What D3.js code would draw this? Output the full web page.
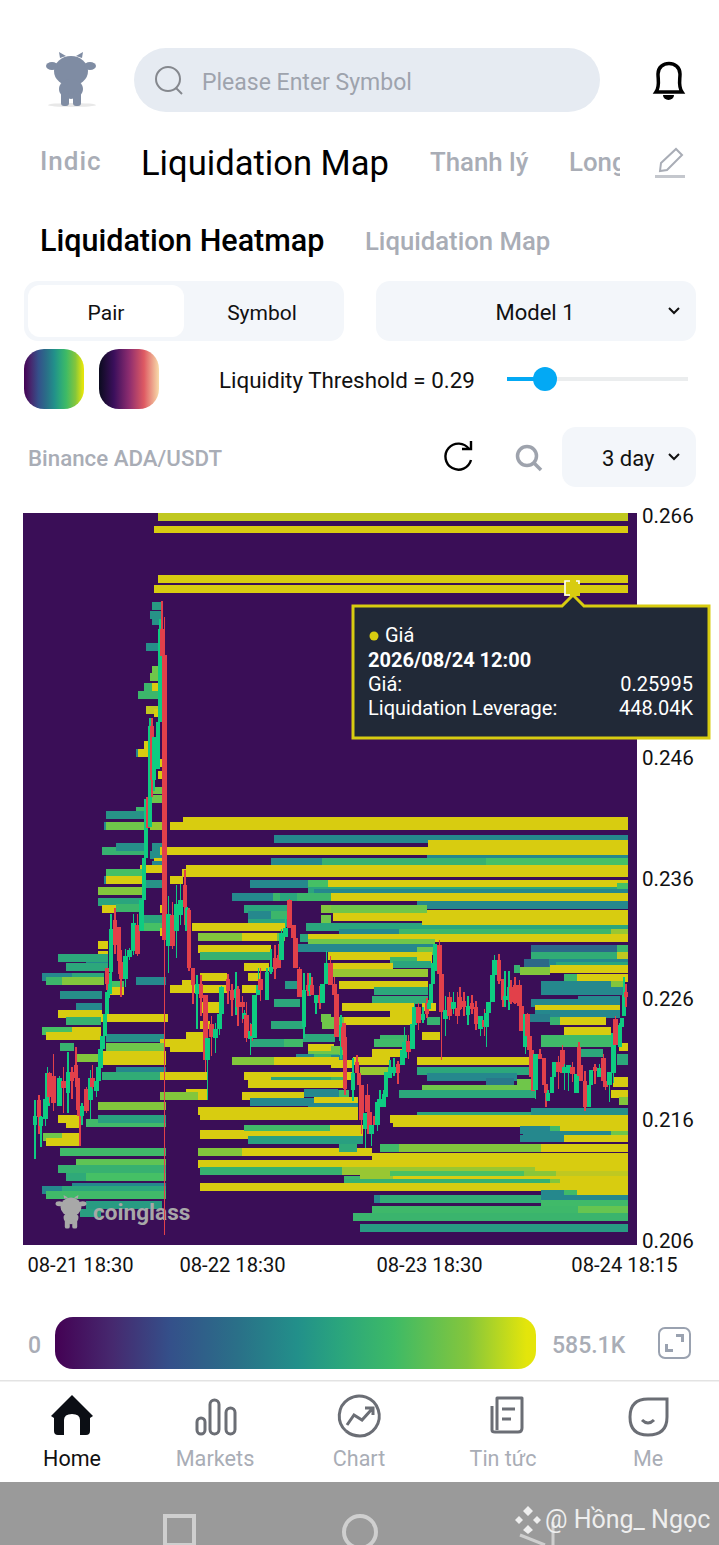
<!DOCTYPE html>
<html>
<head>
<meta charset="utf-8">
<script src="https://d3js.org/d3.v7.min.js"></script>
<style>
	body, html { margin: 0; padding: 0; background: #fff; }
	svg { display: block; }
	text { font-family: Roboto, "Noto Sans", sans-serif; }
</style>
</head>
<body>
<script>

var priceTicks = [0.266, 0.256, 0.246, 0.236, 0.226, 0.216, 0.206];
var timeTicks = [0, 24, 48, 71.75];
var timeLabels = ["08-21 18:30", "08-22 18:30", "08-23 18:30", "08-24 18:15"];
var legendMin = "0";
var legendMax = "585.1K";

// liquidation value (K) -> colour for the heat rows
var colorValues = [0, 68, 133, 201, 241, 277, 309, 337, 366, 386, 426, 448, 470];
var colorRange = ["#440154", "#46296f", "#32508a", "#2a7088", "#25888d", "#2aa57d", "#3cb66b", "#45c065", "#6fc64a", "#82c63c", "#c0c820", "#d8cc10", "#e5e50a"];

// legend bar stops
var legendOffsets = [0, 0.12, 0.24, 0.38, 0.505, 0.59, 0.705, 0.857, 0.98, 1];
var legendColors = ["#440154", "#46296f", "#34508a", "#2a7088", "#22908a", "#2aa57d", "#3eba66", "#84c63c", "#e3e50b", "#e5e50a"];

// [price, from hour, to hour, value K]
var heatTop = [
	[.2658, 15, 72.3, 426], [.2648, 14.5, 72.3, 448], [.2607, 15, 72.3, 448], [.2599, 14.5, 72.3, 448],
	[.2585, 14.3, 15.5, 265], [.2577, 14, 15.5, 255], [.2572, 14.3, 15.5, 255], [.2551, 13.5, 15, 250],
	[.2532, 14.3, 15, 366], [.2526, 14, 15, 366], [.2518, 13.3, 14.3, 309], [.2518, 14.3, 15, 448],
	[.2511, 12.6, 15, 309], [.2499, 13.5, 15, 426], [.2496, 14.5, 15, 448], [.2470, 13.3, 13.8, 448],
	[.2463, 12.3, 13.8, 241], [.2463, 12.6, 13.8, 448], [.2455, 15, 15.5, 448], [.2445, 15, 15.5, 448],
	[.2432, 14.3, 15.5, 366], [.2425, 14.3, 15.5, 366], [.2415, 12.3, 13.3, 309], [.2412, 8.7, 13.3, 255],
	[.2403, 8.4, 13.3, 241], [.2403, 8.7, 13.3, 366], [.2403, 14, 15.5, 400], [.2407, 18, 72.3, 448], [.2403, 16.5, 72.3, 448],
	[.2392, 29.1, 72.3, 241]
];

var heatUpper = [
	[.2382, 8.2, 13.3, 300], [.2385, 9.9, 13.3, 250], [.2385, 14.3, 15.5, 250], [.2379, 14, 15.5, 250],
	[.2388, 47.9, 72.3, 448], [.2382, 15.2, 72.3, 448],
	[.2375, 47.7, 72.3, 241], [.2373, 28.7, 35, 241], [.2373, 35, 55, 300], [.2373, 55, 72.3, 337],
	[.2373, 14.5, 15.5, 448], [.2370, 14.3, 15.5, 241],
	[.2367, 18.4, 72.3, 448], [.2364, 17.9, 72.3, 448], [.2367, 12.8, 15.5, 448],
	[.2364, 8.7, 13, 337], [.2358, 8.4, 13, 241], [.2358, 8.7, 13, 448], [.2358, 16.5, 18, 448], [.2355, 13.5, 15.5, 255],
	[.2355, 26.2, 33.3, 241], [.2355, 33.3, 35.7, 337], [.2355, 35.7, 72.3, 448],
	[.2349, 7.7, 13, 386], [.2349, 33.3, 72.3, 277], [.2352, 70.9, 72.3, 337], [.2347, 34, 72.3, 241],
	[.2344, 24, 29, 241], [.2344, 29, 29.9, 309], [.2344, 29.9, 31.9, 277], [.2344, 31.9, 36, 309], [.2344, 36, 72.3, 448],
	[.2340, 7.7, 13, 277], [.2337, 46.5, 72.3, 241],
	[.2334, 8.2, 9.9, 448], [.2335, 9.9, 12.8, 309], [.2334, 15.2, 16, 448], [.2334, 25.5, 30.7, 277], [.2334, 34.8, 36, 386], [.2334, 36, 47.7, 366],
	[.2330, 47.7, 72.3, 448], [.2329, 26, 28.7, 241], [.2329, 28.7, 30.7, 309],
	[.2327, 36.3, 47.7, 448], [.2326, 47.7, 72.3, 448], [.2326, 13.2, 15.5, 277], [.2326, 34.8, 36, 366],
	[.2322, 26, 30.7, 277], [.2322, 47.2, 72.3, 448], [.2319, 13, 15.5, 337], [.2319, 19.1, 30.4, 448],
	[.2319, 33, 47.2, 277], [.2317, 47.2, 72.3, 277], [.2315, 15.2, 15.8, 448],
	[.2314, 37, 44.3, 241], [.2314, 44.3, 70.2, 309], [.2314, 70.2, 72.3, 400],
	[.2311, 19.9, 25.2, 386], [.2311, 25.2, 29.5, 448], [.2311, 29.5, 30.4, 366],
	[.2310, 32.3, 33.3, 277], [.2310, 33.3, 72.3, 448],
	[.2306, 33.3, 48.7, 366], [.2304, 7.7, 8.9, 448], [.2302, 32, 48.7, 241], [.2301, 19.9, 28.7, 448],
	[.2301, 60.4, 70.9, 185], [.2301, 70.9, 72.3, 309], [.2299, 36.2, 46.5, 241], [.2299, 46.5, 48.7, 366],
	[.2296, 7.7, 8.9, 448], [.2295, 20.1, 28.7, 300], [.2295, 35.7, 48.4, 448], [.2295, 60.4, 70.9, 290], [.2295, 70.9, 72.3, 426],
	[.2293, 2.8, 8.9, 280], [.2291, 43.3, 46.5, 309], [.2291, 46.5, 48.4, 448],
	[.2289, 59.6, 62.6, 185], [.2289, 62.6, 72.3, 241], [.2288, 43.6, 48.2, 277], [.2287, 6.2, 8.9, 241], [.2287, 63.5, 72.3, 277],
	[.2286, 3.8, 8.9, 280], [.2286, 25.5, 28.5, 448], [.2286, 36, 43.6, 448],
	[.2284, 58.4, 59.1, 300], [.2284, 62.7, 72.3, 448], [.2283, 59.1, 62.7, 386], [.2281, 36.2, 47.9, 400],
	[.2278, .9, 4.5, 241], [.2278, 4.5, 8.4, 280], [.2278, 20.1, 23.4, 448], [.2278, 26, 27.4, 448],
	[.2277, 64.5, 66, 309], [.2277, 66, 72.3, 448],
	[.2274, 1.3, 3.3, 309], [.2274, 3.3, 8.4, 386], [.2274, 12.3, 16, 241],
	[.2272, 17.9, 19, 448], [.2271, 8.9, 10.9, 337], [.2271, 30.4, 31.9, 260], [.2271, 37, 47.9, 448], [.2271, 61.6, 70.2, 241], [.2271, 70.2, 71.8, 386],
	[.2268, 16.5, 23.4, 448], [.2268, 25.2, 27.4, 448], [.2266, 8.9, 10.9, 448], [.2266, 41.3, 47.9, 280], [.2266, 61.6, 71.8, 241],
	[.2263, 3, 8.2, 250], [.2259, 41.1, 47.9, 290], [.2259, 66.2, 71.3, 241], [.2256, 29.1, 32.3, 280], [.2256, 60.4, 71.3, 241],
	[.2254, 20.1, 22.6, 448], [.2253, 5, 8.2, 241], [.2251, 20.1, 22.6, 448], [.2253, 37.4, 46.2, 448], [.2253, 47.1, 48.9, 448], [.2251, 60.9, 71.3, 448]
];

var heatMiddle = [
	[.2247, 2.8, 8.2, 448], [.2247, 43.3, 46.2, 448], [.2247, 60.9, 71.3, 241], [.2244, 6.2, 8.4, 448], [.2244, 8.4, 16.2, 448], [.2244, 34.8, 36, 366], [.2244, 59.6, 62.7, 225],
	[.2241, 3.8, 8, 300], [.2241, 36, 37.7, 366], [.2241, 37.7, 46, 448], [.2241, 47.7, 49.4, 300], [.2241, 62.8, 64, 300], [.2241, 64, 69.6, 448],
	[.2238, 20.1, 21.3, 448], [.2238, 28.7, 32.7, 280], [.2238, 35, 37, 366], [.2233, .9, 4.5, 337], [.2233, 4.5, 8, 448], [.2233, 64.5, 70.2, 448],
	[.2229, 1.3, 8, 448], [.2229, 18.4, 20.6, 448], [.2229, 47.2, 49.4, 448],
	[.2227, 8.7, 15.7, 250], [.2227, 32.7, 36.5, 280], [.2226, 42, 45.3, 309], [.2226, 61.6, 70.4, 320], [.2223, 15.2, 20.6, 448], [.2223, 26.2, 30.3, 280], [.2223, 30.3, 32.7, 320],
	[.2223, 41.3, 45.3, 320], [.2223, 61.6, 70.4, 320], [.2220, 3, 4.8, 300], [.2220, 8.7, 15.7, 366], [.2220, 71.1, 72.3, 448],
	[.2219, 16.5, 20.6, 448], [.2219, 33.3, 36.4, 448], [.2217, 36, 38, 366], [.2215, 41.1, 44.8, 448], [.2215, 66.5, 69.2, 280],
	[.2213, 8.2, 16, 448], [.2213, 33.3, 37.5, 366], [.2211, 5.1, 7.7, 386], [.2211, 31.8, 34, 241], [.2211, 34, 37, 309], [.2211, 70.9, 72.3, 280], [.2210, 36, 38, 241],
	[.2208, 8.2, 16, 448], [.2208, 24, 29.1, 386], [.2208, 29.1, 37, 448], [.2208, 38.7, 43.3, 448], [.2208, 46.5, 60.4, 448], [.2208, 70.9, 72.3, 280], [.2206, 36, 38.7, 448],
	[.2200, 9.9, 16, 241], [.2200, 39.6, 43.3, 400], [.2200, 46.5, 60.4, 280],
	[.2196, 8.2, 15.2, 290], [.2196, 15.2, 21.1, 448], [.2196, 25.5, 38.7, 448], [.2195, 47.7, 58.7, 241],
	[.2192, 28.7, 36, 280], [.2192, 36, 37.5, 309], [.2192, 70.4, 72.3, 448], [.2191, 55, 58.4, 215], [.2190, 58.7, 60.4, 366], [.2190, 70.4, 72.3, 448], [.2189, 26, 37.5, 448],
	[.2185, 47.2, 60.9, 366], [.2182, 18.4, 21, 448], [.2182, 32.8, 36.9, 241], [.2181, 36, 37, 241], [.2181, 37, 38.2, 320], [.2181, 44.3, 60.9, 280], [.2181, 70.2, 72.3, 448],
	[.2179, 15.2, 19.9, 386], [.2179, 19.9, 21, 448], [.2179, 25.2, 32.8, 448], [.2175, 34, 39.4, 448], [.2175, 71.1, 72.3, 386], [.2174, 26.2, 34, 241],
	[.2171, 7.7, 16, 386], [.2170, 33.3, 39.4, 241], [.2167, 19.9, 39.4, 448], [.2166, 60.4, 72.3, 250], [.2163, 20.1, 39.4, 448], [.2163, 46.5, 60.4, 280],
	[.2157, 6.2, 16, 320], [.2160, 2.8, 5.5, 448], [.2160, 7.7, 16, 270], [.2160, 43.3, 72.3, 448], [.2156, 3.8, 5.5, 448], [.2157, 43.6, 72.3, 448],
	[.2152, 25.5, 35.9, 320], [.2152, 35.9, 39.9, 448], [.2151, 59.1, 62.8, 241], [.2151, 62.8, 64, 320], [.2151, 64, 72.3, 448],
	[.2148, 20.1, 25.5, 448], [.2147, 20.1, 39.9, 448], [.2147, 59.4, 70.2, 241], [.2147, 70.2, 72.3, 366],
	[.2145, 1, 3.3, 366], [.2145, 3.3, 5.5, 448], [.2143, 26, 39.9, 270], [.2144, 59.1, 64.5, 241], [.2144, 64.5, 72.3, 448], [.2141, 1.3, 5.5, 448]
];

var heatLower = [
	[.2133, 3, 16, 320], [.2133, 19.9, 25.2, 386], [.2133, 25.2, 41.1, 448],
	[.2136, 37, 39.2, 285], [.2136, 42, 44.3, 320], [.2136, 44.3, 61.6, 386], [.2136, 61.6, 72.3, 448],
	[.2129, 41.1, 72.3, 448], [.2124, 5, 16, 355], [.2123, 19.9, 72.3, 448],
	[.2119, 2.8, 16, 300], [.2117, 20.1, 37.4, 300], [.2117, 37.4, 60.9, 400], [.2117, 60.9, 72.3, 448],
	[.2114, 39.6, 43.3, 400], [.2114, 43.3, 59.6, 340], [.2114, 59.6, 63.5, 390], [.2114, 63.5, 72.3, 426],
	[.2112, 3.8, 6.2, 285], [.2112, 6.2, 16, 337],
	[.2110, 37.7, 39.6, 309], [.2110, 39.6, 43.6, 400], [.2110, 43.6, 72.3, 448],
	[.2107, 37.7, 62.7, 300], [.2107, 62.7, 64, 386], [.2107, 64, 72.3, 448],
	[.2104, 4.5, 16, 241], [.2104, 20.1, 72.3, 448], [.2101, .9, 3.3, 241], [.2101, 3.3, 16, 280],
	[.2098, 61.6, 64.5, 241], [.2098, 64.5, 66, 320], [.2098, 66, 72.3, 448],
	[.2097, 1.3, 16, 320], [.2094, 41.3, 42, 241], [.2094, 42, 61.6, 290], [.2094, 61.6, 72.3, 241], [.2090, 61.6, 72.3, 320],
	[.2089, 6.2, 15.5, 265], [.2085, 41.1, 66.2, 315], [.2085, 66.2, 72.3, 360], [.2082, 5.5, 8, 270],
	[.2079, 38.7, 72.3, 305], [.2070, 39.6, 72.3, 265]
];

// [quarter-hour slot, open, high, low, close]
var candlesLeft = [
	[0,.2155,.2176,.2127,.2163], [2,.2176,.2180,.2148,.2162], [3,.2154,.2163,.2137,.2162], [5,.2160,.2183,.2154,.2177],
	[6,.2171,.2203,.2162,.2198], [7,.2198,.2199,.2173,.2178], [9,.2196,.2214,.2167,.2173], [12,.2171,.2196,.2171,.2194],
	[14,.2192,.2203,.2165,.2186], [16,.2182,.2216,.2165,.2199], [18,.2199,.2203,.2177,.2192], [20,.2205,.2220,.2187,.2194],
	[21,.2194,.2194,.2163,.2168], [22,.2168,.2168,.2138,.2163], [23,.2163,.2173,.2155,.2171], [25,.2185,.2187,.2165,.2167],
	[27,.2176,.2201,.2160,.2194], [28,.2194,.2205,.2185,.2187], [30,.2183,.2194,.2178,.2192], [31,.2192,.2203,.2188,.2203],
	[32,.2202,.2218,.2200,.2218], [33,.2218,.2229,.2216,.2229], [34,.2229,.2247,.2229,.2247], [35,.2247,.2265,.2247,.2265],
	[36,.2265,.2281,.2260,.2281], [35,.2285,.2285,.2267,.2272], [37,.2282,.2330,.2264,.2317], [39,.2325,.2335,.2297,.2304],
	[41,.2319,.2319,.2280,.2291], [42,.2290,.2300,.2261,.2276], [44,.2276,.2301,.2269,.2295], [46,.2294,.2302,.2292,.2300],
	[48,.2299,.2330,.2296,.2322], [50,.2321,.2330,.2295,.2297], [52,.2316,.2341,.2316,.2341], [53,.2341,.2376,.2341,.2376],
	[54,.2376,.2425,.2376,.2425], [55,.2427,.2427,.2401,.2401], [56,.2402,.2492,.2402,.2485], [57,.2485,.2492,.2427,.2441],
	[58,.2441,.2476,.2432,.2476], [60,.2450,.2489,.2450,.2489], [61,.2489,.2574,.2489,.2566], [62,.2566,.2589,.2543,.2543],
	[63,.2544,.2576,.2064,.2308]
];

var candlesMiddle = [
	[65,.2303,.2345,.2281,.2330], [67,.2329,.2340,.2301,.2303], [69,.2316,.2354,.2293,.2338], [71,.2329,.2355,.2321,.2341],
	[73,.2354,.2366,.2321,.2336], [74,.2316,.2336,.2316,.2335], [75,.2333,.2335,.2283,.2285], [77,.2285,.2285,.2255,.2271],
	[79,.2264,.2279,.2235,.2272], [81,.2272,.2279,.2245,.2260], [83,.2263,.2263,.2199,.2209], [84,.2209,.2227,.2176,.2227],
	[86,.2239,.2245,.2212,.2228], [88,.2227,.2240,.2215,.2235], [90,.2235,.2247,.2230,.2247], [91,.2247,.2270,.2242,.2269],
	[94,.2276,.2280,.2255,.2266], [96,.2267,.2272,.2245,.2259], [98,.2260,.2282,.2246,.2268], [99,.2268,.2270,.2237,.2253],
	[101,.2257,.2262,.2240,.2253], [102,.2243,.2250,.2235,.2248], [103,.2246,.2257,.2224,.2227], [105,.2226,.2240,.2213,.2233],
	[106,.2239,.2252,.2225,.2229], [107,.2227,.2263,.2227,.2263], [109,.2263,.2285,.2263,.2271], [110,.2276,.2285,.2258,.2267],
	[113,.2259,.2285,.2259,.2282], [115,.2282,.2301,.2280,.2286], [117,.2293,.2304,.2276,.2284], [119,.2296,.2305,.2285,.2285],
	[120,.2292,.2317,.2292,.2314], [122,.2311,.2328,.2311,.2318], [124,.2341,.2342,.2318,.2318], [126,.2321,.2321,.2310,.2310],
	[127,.2310,.2311,.2285,.2285], [129,.2284,.2286,.2261,.2261], [131,.2236,.2281,.2227,.2267], [133,.2271,.2281,.2262,.2266],
	[134,.2266,.2281,.2262,.2271], [135,.2271,.2278,.2263,.2263], [137,.2256,.2263,.2247,.2263], [139,.2263,.2270,.2251,.2256],
	[140,.2256,.2272,.2256,.2272], [142,.2272,.2299,.2272,.2289], [144,.2289,.2295,.2271,.2271], [146,.2272,.2278,.2263,.2263],
	[147,.2264,.2264,.2228,.2228], [149,.2225,.2246,.2210,.2238], [150,.2236,.2240,.2217,.2220], [151,.2228,.2240,.2180,.2185],
	[155,.2184,.2211,.2175,.2198], [157,.2207,.2213,.2198,.2198], [158,.2198,.2198,.2188,.2188], [159,.2188,.2188,.2148,.2159],
	[161,.2152,.2165,.2136,.2165], [162,.2180,.2189,.2166,.2166], [163,.2166,.2166,.2148,.2148], [164,.2148,.2155,.2138,.2155],
	[166,.2163,.2170,.2155,.2155], [167,.2155,.2174,.2150,.2174], [168,.2170,.2184,.2170,.2177], [170,.2170,.2184,.2170,.2181],
	[171,.2178,.2199,.2178,.2199], [173,.2194,.2209,.2194,.2203], [175,.2198,.2211,.2196,.2203], [177,.2206,.2208,.2189,.2198],
	[179,.2205,.2219,.2205,.2217], [180,.2211,.2236,.2211,.2224], [182,.2225,.2230,.2210,.2216], [184,.2218,.2239,.2218,.2239],
	[185,.2238,.2255,.2238,.2253], [187,.2253,.2256,.2234,.2240], [189,.2242,.2253,.2240,.2247], [191,.2256,.2260,.2244,.2247]
];

var candlesRight = [
	[192,.2251,.2259,.2251,.2256], [193,.2256,.2272,.2256,.2272], [194,.2272,.2289,.2272,.2289], [195,.2283,.2305,.2283,.2305],
	[197,.2304,.2308,.2280,.2280], [198,.2280,.2282,.2209,.2249], [200,.2243,.2262,.2229,.2250], [202,.2261,.2265,.2242,.2245],
	[204,.2251,.2265,.2247,.2257], [206,.2252,.2265,.2239,.2245], [207,.2261,.2269,.2250,.2251], [209,.2258,.2265,.2245,.2253],
	[211,.2246,.2262,.2238,.2254], [213,.2256,.2263,.2247,.2251], [215,.2253,.2258,.2234,.2239], [217,.2235,.2245,.2229,.2245],
	[219,.2242,.2251,.2229,.2236], [220,.2236,.2248,.2220,.2248], [221,.2248,.2257,.2248,.2257], [223,.2257,.2279,.2257,.2279],
	[224,.2279,.2296,.2279,.2292], [226,.2292,.2297,.2272,.2274], [228,.2276,.2276,.2253,.2259], [229,.2259,.2283,.2253,.2262],
	[231,.2259,.2283,.2250,.2269], [232,.2269,.2275,.2255,.2257], [234,.2271,.2278,.2255,.2256], [236,.2271,.2275,.2254,.2254],
	[237,.2254,.2254,.2233,.2233], [239,.2220,.2247,.2214,.2247], [240,.2247,.2248,.2229,.2229], [241,.2229,.2229,.2217,.2217],
	[242,.2217,.2217,.2195,.2195], [243,.2195,.2195,.2183,.2183], [244,.2184,.2214,.2177,.2214], [246,.2214,.2218,.2210,.2210],
	[248,.2211,.2211,.2188,.2188], [249,.2189,.2189,.2170,.2182], [250,.2175,.2184,.2175,.2182], [252,.2182,.2195,.2182,.2195],
	[253,.2195,.2207,.2195,.2207], [255,.2207,.2212,.2185,.2199], [257,.2217,.2221,.2198,.2198], [258,.2198,.2206,.2184,.2203],
	[260,.2198,.2205,.2183,.2205], [262,.2203,.2207,.2191,.2197], [264,.2182,.2197,.2182,.2197], [265,.2220,.2224,.2196,.2196],
	[266,.2205,.2205,.2192,.2192], [268,.2192,.2200,.2167,.2170], [270,.2170,.2188,.2170,.2188], [271,.2188,.2201,.2188,.2201],
	[273,.2203,.2206,.2189,.2200], [275,.2195,.2206,.2195,.2202], [277,.2211,.2214,.2192,.2192], [278,.2192,.2192,.2184,.2187],
	[280,.2188,.2199,.2174,.2199], [282,.2198,.2231,.2190,.2231], [283,.2243,.2245,.2221,.2221], [285,.2220,.2240,.2220,.2238],
	[286,.2236,.2244,.2236,.2244], [287,.2245,.2278,.2245,.2263], [288,.2265,.2272,.2253,.2261]
];

var heatRows = heatTop.concat(heatUpper, heatMiddle, heatLower);
var candles = candlesLeft.concat(candlesMiddle, candlesRight);

var width = 719, height = 1545;
var yellow = "#d8cc10", greyText = "#a9adb6";
var plot = { left: 23, right: 637, top: 513, bottom: 1245 };

var svg = d3.select("body").append("svg").attr("width", width).attr("height", height);
var defs = svg.append("defs");

var x = d3.scaleLinear().domain([0, 72]).range([35, 626]);
var y = d3.scaleLinear().domain([0.266, 0.206]).range([515, 1240]);
var color = d3.scaleLinear().domain(colorValues).range(colorRange).clamp(true);

function label(txt, px, py, size, fill, weight, anchor) {
	return svg.append("text").attr("x", px).attr("y", py)
		.attr("font-size", size).attr("fill", fill)
		.attr("font-weight", weight || 400)
		.attr("text-anchor", anchor || "start")
		.text(txt);
}

function bull(px, py, s, fill) {
	var g = svg.append("g").attr("transform", "translate(" + px + "," + py + ") scale(" + s + ")").attr("fill", fill);
	g.append("ellipse").attr("cx", 0).attr("cy", -10).attr("rx", 17).attr("ry", 15);
	g.append("ellipse").attr("cx", -19).attr("cy", -15).attr("rx", 6).attr("ry", 4);
	g.append("ellipse").attr("cx", 19).attr("cy", -15).attr("rx", 6).attr("ry", 4);
	g.append("path").attr("d", "M-11,-23 L-12,-29 L-5,-25 Z M11,-23 L12,-29 L5,-25 Z");
	g.append("ellipse").attr("cx", 0).attr("cy", 8).attr("rx", 12).attr("ry", 10);
	g.append("rect").attr("x", -10).attr("y", 10).attr("width", 8).attr("height", 15).attr("rx", 3);
	g.append("rect").attr("x", 2).attr("y", 10).attr("width", 8).attr("height", 15).attr("rx", 3);
}

function chevron(px, py) {
	svg.append("path").attr("d", "M" + (px - 5) + "," + (py - 3) + "l5,5l5,-5")
		.attr("fill", "none").attr("stroke", "#111").attr("stroke-width", 2);
}

function gradient(id, stops, offsets) {
	var g = defs.append("linearGradient").attr("id", id);
	stops.forEach(function (c, i) {
		g.append("stop").attr("offset", offsets ? offsets[i] : i / (stops.length - 1)).attr("stop-color", c);
	});
}

// header
svg.append("ellipse").attr("cx", 72).attr("cy", 105).attr("rx", 24).attr("ry", 2).attr("fill", "#e8e8e8");
bull(71, 81, 1, "#7f8ca3");
svg.append("rect").attr("x", 134).attr("y", 48).attr("width", 466).attr("height", 64).attr("rx", 32).attr("fill", "#e6ebf2");
svg.append("circle").attr("cx", 168).attr("cy", 79).attr("r", 12).attr("fill", "none").attr("stroke", "#85888e").attr("stroke-width", 2);
svg.append("line").attr("x1", 176).attr("y1", 88).attr("x2", 182).attr("y2", 94).attr("stroke", "#85888e").attr("stroke-width", 2);
label("Please Enter Symbol", 202, 90, 23, "#9ea3ad");
svg.append("path").attr("d", "M656,92 C660,86 658,80 658,74 C658,60 680,60 680,74 C680,80 678,86 682,92 Z")
	.attr("fill", "none").attr("stroke", "#000").attr("stroke-width", 3.5);
svg.append("path").attr("d", "M663,95 h11 a5.5,5 0 0 1 -11,0 Z").attr("fill", "#000");

label("Indic", 40, 170, 26, greyText, 500).attr("letter-spacing", 1);
label("Liquidation Map", 141, 175, 34.6, "#000", 400);
label("Thanh lý", 430, 171, 25.8, greyText, 500);
defs.append("clipPath").attr("id", "tab-clip").append("rect").attr("x", 560).attr("y", 140).attr("width", 60).attr("height", 50);
label("Long", 569, 171, 25.8, greyText, 500).attr("clip-path", "url(#tab-clip)");
svg.append("path").attr("d", "M660,171 L661,163 L676,149 L682,155 L667,170 Z").attr("fill", "none").attr("stroke", "#a9adb6").attr("stroke-width", 2);
svg.append("rect").attr("x", 655).attr("y", 175).attr("width", 30).attr("height", 3).attr("fill", "#c4c7cd");

label("Liquidation Heatmap", 40, 251, 30.5, "#000", 500);
label("Liquidation Map", 365, 250, 25.7, greyText, 500);

// controls
svg.append("rect").attr("x", 24).attr("y", 281).attr("width", 320).attr("height", 60).attr("rx", 14).attr("fill", "#f3f6fa");
svg.append("rect").attr("x", 28).attr("y", 285).attr("width", 156).attr("height", 52).attr("rx", 12).attr("fill", "#fff");
label("Pair", 106, 320, 21, "#111", 400, "middle");
label("Symbol", 262, 320, 21, "#111", 400, "middle");
svg.append("rect").attr("x", 376).attr("y", 281).attr("width", 320).attr("height", 60).attr("rx", 14).attr("fill", "#f3f6fa");
label("Model 1", 535, 320, 22, "#111", 400, "middle");
chevron(674, 311);

gradient("viridis-swatch", legendColors, legendOffsets);
gradient("magma-swatch", ["#0b0b1e", "#3b0f5c", "#8c2c6f", "#de5a63", "#f8dcaa"]);
svg.append("rect").attr("x", 24).attr("y", 349).attr("width", 60).attr("height", 60).attr("rx", 20).attr("fill", "url(#viridis-swatch)");
svg.append("rect").attr("x", 99).attr("y", 349).attr("width", 60).attr("height", 60).attr("rx", 20).attr("fill", "url(#magma-swatch)");
label("Liquidity Threshold = 0.29", 219, 388, 22.4, "#111");
svg.append("rect").attr("x", 507).attr("y", 377).attr("width", 181).attr("height", 4).attr("fill", "#ebedee");
svg.append("rect").attr("x", 507).attr("y", 377).attr("width", 38).attr("height", 4).attr("fill", "#03a9f4");
svg.append("circle").attr("cx", 545).attr("cy", 379).attr("r", 12).attr("fill", "#03a9f4");

label("Binance ADA/USDT", 28, 466, 22.3, greyText, 500);
svg.append("path").attr("d", "M469,449 A13,13 0 1 0 471,460").attr("fill", "none").attr("stroke", "#000").attr("stroke-width", 2.4);
svg.append("path").attr("d", "M462,449 h9 v-8").attr("fill", "none").attr("stroke", "#000").attr("stroke-width", 2.4);
svg.append("circle").attr("cx", 527).attr("cy", 456).attr("r", 9.5).attr("fill", "none").attr("stroke", "#9ea3ad").attr("stroke-width", 3.5);
svg.append("line").attr("x1", 534).attr("y1", 463).attr("x2", 541).attr("y2", 470).attr("stroke", "#9ea3ad").attr("stroke-width", 3.5);
svg.append("rect").attr("x", 562).attr("y", 427).attr("width", 134).attr("height", 60).attr("rx", 14).attr("fill", "#f3f6fa");
label("3 day", 602, 466, 22, "#111");
chevron(674, 457);

// heatmap
svg.append("rect").attr("x", plot.left).attr("y", plot.top)
	.attr("width", plot.right - plot.left).attr("height", plot.bottom - plot.top).attr("fill", "#3a0e57");

var rowHeight = y(0.2) - y(0.2 + 0.00066);
svg.append("g").attr("shape-rendering", "crispEdges").selectAll("rect").data(heatRows).enter().append("rect")
	.attr("x", function (d) { return x(d[1]); })
	.attr("y", function (d) { return y(d[0]) - rowHeight / 2; })
	.attr("width", function (d) { return x(d[2]) - x(d[1]); })
	.attr("height", rowHeight)
	.attr("fill", function (d) { return color(d[3]); });

// watermark
bull(71, 1213, 0.62, "#a8a8a8");
label("coinglass", 93, 1220, 22.6, "#a8a8a8", 700);

// candles
var bodyWidth = x(0.55) - x(0);
var candleG = svg.append("g").attr("shape-rendering", "crispEdges").selectAll("g").data(candles).enter().append("g")
	.attr("fill", function (d) { return d[4] >= d[1] ? "#0ecb81" : "#e2404a"; });
candleG.append("rect")
	.attr("x", function (d) { return x(d[0] * 0.25) - 0.75; })
	.attr("y", function (d) { return y(d[2]); })
	.attr("width", 1.5)
	.attr("height", function (d) { return y(d[3]) - y(d[2]); });
candleG.append("rect")
	.attr("x", function (d) { return x(d[0] * 0.25) - bodyWidth / 2; })
	.attr("y", function (d) { return y(Math.max(d[1], d[4])); })
	.attr("width", bodyWidth)
	.attr("height", function (d) { return Math.max(1, Math.abs(y(d[1]) - y(d[4]))); });

// axes
var yAxis = d3.axisRight(y).tickValues(priceTicks).tickSize(0).tickPadding(0).tickFormat(d3.format(".3f"));
var yG = svg.append("g").attr("transform", "translate(642,1)").call(yAxis);
yG.select(".domain").remove();
yG.selectAll("text").attr("font-size", 20.6).attr("fill", "#111").attr("font-family", "Roboto");

var xAxis = d3.axisBottom(x).tickValues(timeTicks).tickSize(0).tickPadding(0)
	.tickFormat(function (d, i) { return timeLabels[i]; });
var xG = svg.append("g").attr("transform", "translate(0,1258)").call(xAxis);
xG.select(".domain").remove();
xG.selectAll("text").attr("font-size", 20.2).attr("fill", "#111").attr("font-family", "Roboto");
xG.selectAll(".tick").filter(function (d) { return d === 0; }).select("text").attr("dx", 45);

// tooltip
svg.append("rect").attr("x", 564).attr("y", 580).attr("width", 16).attr("height", 16).attr("fill", yellow);
svg.append("path").attr("d", "M570,581 H565 V595 H570 M576,581 H579 V584").attr("fill", "none").attr("stroke", "#fff").attr("stroke-width", 1.6);
svg.append("path").attr("d", "M353,606 H562 L573,595 L584,606 H709 V738 H353 Z")
	.attr("fill", "#212937").attr("stroke", yellow).attr("stroke-width", 3);
svg.append("circle").attr("cx", 374).attr("cy", 636).attr("r", 4.5).attr("fill", yellow);
label("Giá", 385, 642, 20, "#fff");
label("2026/08/24 12:00", 368, 667, 20, "#fff", 700);
label("Giá:", 368, 691, 20, "#fff");
label("0.25995", 693, 691, 20, "#fff", 400, "end");
label("Liquidation Leverage:", 368, 715, 20, "#fff");
label("448.04K", 693, 715, 20, "#fff", 400, "end");

// legend
gradient("legend-grad", legendColors, legendOffsets);
label(legendMin, 28, 1353, 23, greyText, 500);
svg.append("rect").attr("x", 55).attr("y", 1317).attr("width", 481).attr("height", 52).attr("rx", 18).attr("fill", "url(#legend-grad)");
label(legendMax, 552, 1353, 23, greyText, 500);
svg.append("rect").attr("x", 659).attr("y", 1328).attr("width", 31).attr("height", 30).attr("rx", 6).attr("fill", "none").attr("stroke", "#9aa2b0").attr("stroke-width", 2);
svg.append("path").attr("d", "M676,1334 h8 v8 h-3 v-5 h-5 Z M665,1344 h3 v5 h5 v3 h-8 Z").attr("fill", "#9aa2b0");

// bottom nav
svg.append("rect").attr("x", 0).attr("y", 1380).attr("width", width).attr("height", 1.5).attr("fill", "#e3e3e3");
svg.append("path").attr("d", "M51,1416 L72,1395 L93,1416 L90,1418 V1431 Q90,1435 86,1435 H80 V1420 Q80,1414 72,1414 Q64,1414 64,1420 V1435 H58 Q54,1435 54,1431 V1418 Z").attr("fill", "#0b0e14");
var navG = svg.append("g").attr("fill", "none").attr("stroke", "#6b6e75").attr("stroke-width", 3);
navG.append("rect").attr("x", 197).attr("y", 1418).attr("width", 8).attr("height", 16).attr("rx", 4);
navG.append("rect").attr("x", 210).attr("y", 1400).attr("width", 9).attr("height", 34).attr("rx", 4.5);
navG.append("rect").attr("x", 226).attr("y", 1408).attr("width", 9).attr("height", 26).attr("rx", 4.5);
navG.append("path").attr("d", "M346,1431 A20,20 0 1 1 360,1436 Q352,1436 346,1431 M347,1425 L354,1415 L362,1420 L372,1409 M365,1408 h8 v7");
navG.append("path").attr("d", "M492,1406 V1430 Q492,1432 495,1432 H518 Q522,1432 522,1428 V1398 H497 V1430 M502,1409 H515 M502,1419 H511").attr("stroke-linejoin", "round");
navG.append("path").attr("d", "M667,1399 V1417 Q667,1435 648,1435 Q630,1435 630,1417 Q630,1399 648,1399 Z");
navG.append("path").attr("d", "M642,1420 Q648,1426 654,1420");
label("Home", 72, 1466, 21.5, "#111", 400, "middle");
label("Markets", 215, 1466, 21.7, greyText, 400, "middle");
label("Chart", 359, 1466, 21.5, greyText, 400, "middle");
label("Tin tức", 503, 1466, 21.5, greyText, 400, "middle");
label("Me", 648, 1466, 21.5, greyText, 400, "middle");

// android bar
svg.append("rect").attr("x", 0).attr("y", 1482).attr("width", width).attr("height", 63).attr("fill", "#9a9a9a");
svg.append("rect").attr("x", 165).attr("y", 1516).attr("width", 29).attr("height", 29).attr("fill", "none").attr("stroke", "#cfcfcf").attr("stroke-width", 4);
svg.append("circle").attr("cx", 360).attr("cy", 1532).attr("r", 16).attr("fill", "none").attr("stroke", "#cfcfcf").attr("stroke-width", 4);
svg.append("path").attr("d", "M553,1522 V1545 M520,1535 L545,1545").attr("fill", "none").attr("stroke", "#cfcfcf").attr("stroke-width", 3);
svg.append("path").attr("d", "M528,1506 l5,5 -5,5 -5,-5 Z M519,1516 l4,4 -4,4 -4,-4 Z M537,1516 l4,4 -4,4 -4,-4 Z M528,1525 l5,5 -5,4 -5,-4 Z").attr("fill", "#eee");
label("@ Hồng_ Ngọc", 545, 1528, 25, "#eee");

</script>
</body>
</html>
